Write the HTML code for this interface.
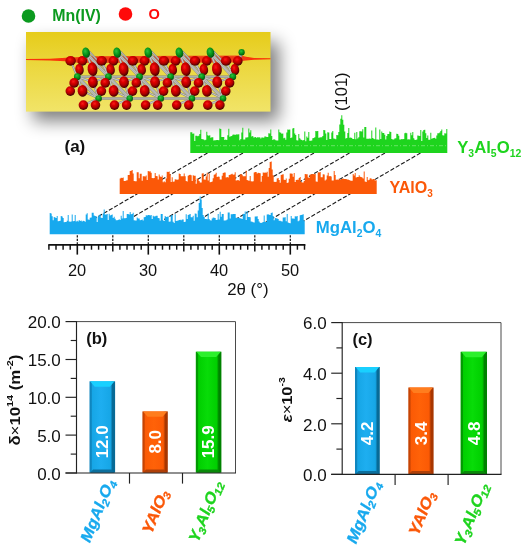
<!DOCTYPE html>
<html lang="en"><head><meta charset="utf-8"><title>Figure</title>
<style>html,body{margin:0;padding:0;background:#fff;}body{width:528px;height:550px;overflow:hidden;}svg{display:block;} text{font-family:'Liberation Sans', Arial, Helvetica, sans-serif;}</style></head><body>
<svg width="528" height="550" viewBox="0 0 528 550">
<defs>
<linearGradient id="gy" x1="0" y1="0" x2="0" y2="1"><stop offset="0" stop-color="#e6cc1a"/><stop offset="0.45" stop-color="#ecd840"/><stop offset="1" stop-color="#f1e468"/></linearGradient>
<radialGradient id="gr" cx="0.42" cy="0.34" r="0.68"><stop offset="0" stop-color="#fa1c1a"/><stop offset="0.32" stop-color="#da0101"/><stop offset="0.62" stop-color="#ac0000"/><stop offset="0.88" stop-color="#5c0000"/><stop offset="1" stop-color="#2c0000"/></radialGradient>
<radialGradient id="gg" cx="0.42" cy="0.34" r="0.68"><stop offset="0" stop-color="#30c040"/><stop offset="0.45" stop-color="#0a9a1c"/><stop offset="0.85" stop-color="#006a10"/><stop offset="1" stop-color="#003006"/></radialGradient>
<filter id="sh" x="-20%" y="-50%" width="140%" height="220%"><feGaussianBlur stdDeviation="8.5"/></filter>
<filter id="b1" x="-10%" y="-10%" width="120%" height="120%"><feGaussianBlur stdDeviation="0.55"/></filter>
<linearGradient id="bb" x1="0" y1="0" x2="1" y2="0"><stop offset="0" stop-color="#0f86bf"/><stop offset="0.07" stop-color="#0f86bf"/><stop offset="0.11" stop-color="#16a6e6"/><stop offset="0.45" stop-color="#1eaef0"/><stop offset="0.82" stop-color="#16a6e6"/><stop offset="0.9" stop-color="#086a96"/><stop offset="1" stop-color="#086a96"/></linearGradient>
<linearGradient id="bo" x1="0" y1="0" x2="1" y2="0"><stop offset="0" stop-color="#c64404"/><stop offset="0.07" stop-color="#c64404"/><stop offset="0.11" stop-color="#fb5a05"/><stop offset="0.45" stop-color="#ff6208"/><stop offset="0.82" stop-color="#fb5a05"/><stop offset="0.9" stop-color="#a83600"/><stop offset="1" stop-color="#a83600"/></linearGradient>
<linearGradient id="bg" x1="0" y1="0" x2="1" y2="0"><stop offset="0" stop-color="#029a02"/><stop offset="0.07" stop-color="#029a02"/><stop offset="0.11" stop-color="#00cf00"/><stop offset="0.45" stop-color="#08dc08"/><stop offset="0.82" stop-color="#00cf00"/><stop offset="0.9" stop-color="#008200"/><stop offset="1" stop-color="#008200"/></linearGradient>
</defs>
<circle cx="28.5" cy="16" r="6.8" fill="#0b9a1f"/>
<text x="52.2" y="21.0" font-size="16.3" font-weight="bold" fill="#0b9a1f" textLength="48.6" lengthAdjust="spacingAndGlyphs">Mn(IV)</text>
<circle cx="125.5" cy="14" r="6.8" fill="#ff0a0a"/>
<text x="148.4" y="18.7" font-size="14.6" font-weight="bold" fill="#ff0a0a">O</text>
<rect x="33" y="42" width="246" height="79" fill="#000" opacity="0.5" filter="url(#sh)"/>
<rect x="26" y="32" width="244.5" height="79.6" fill="url(#gy)"/>
<g filter="url(#b1)">
<polygon points="26,59.0 50,58.7 70,57.6 246,56.8 254,57.9 270.5,58.3 270.5,59.3 254,59.7 246,60.6 70,61.6 50,60.4 26,60.0" fill="#fa3208"/>
<polygon points="64,59.6 84,56.2 242,55.4 250,58.6 238,62.5 78,63" fill="#f23a14" opacity="0.9"/>
<line x1="86.1" y1="52.9" x2="77.3" y2="76.7" stroke="#8a8a86" stroke-width="2.8"/>
<line x1="86.1" y1="52.9" x2="79.5" y2="69.5" stroke="#8a8a86" stroke-width="2.2"/>
<line x1="77.3" y1="76.7" x2="74.1" y2="82.9" stroke="#8a8a86" stroke-width="2.2"/>
<line x1="77.3" y1="76.7" x2="70.6" y2="60.9" stroke="#8a8a86" stroke-width="2.0"/>
<line x1="77.3" y1="76.7" x2="70.3" y2="91.1" stroke="#8a8a86" stroke-width="2.0"/>
<line x1="86.1" y1="52.9" x2="82.3" y2="60.9" stroke="#8a8a86" stroke-width="2.0"/>
<line x1="86.1" y1="52.9" x2="108.4" y2="76.7" stroke="#8a8a86" stroke-width="3.4"/>
<line x1="77.3" y1="76.7" x2="98.6" y2="98.5" stroke="#8a8a86" stroke-width="3.4"/>
<line x1="77.3" y1="76.7" x2="108.4" y2="76.7" stroke="#8a8a86" stroke-width="2.5"/>
<line x1="98.6" y1="98.5" x2="129.7" y2="98.5" stroke="#8a8a86" stroke-width="2.5"/>
<line x1="89.1" y1="51.4" x2="111.4" y2="75.2" stroke="#8a8a86" stroke-width="2.0"/>
<line x1="86.1" y1="52.9" x2="92.5" y2="69.2" stroke="#8a8a86" stroke-width="2.2"/>
<line x1="77.3" y1="76.7" x2="92.9" y2="82.1" stroke="#8a8a86" stroke-width="2.2"/>
<line x1="77.3" y1="76.7" x2="82.5" y2="90.9" stroke="#8a8a86" stroke-width="2.2"/>
<line x1="98.6" y1="98.5" x2="92.9" y2="82.1" stroke="#8a8a86" stroke-width="2.0"/>
<line x1="98.6" y1="98.5" x2="82.5" y2="90.9" stroke="#8a8a86" stroke-width="2.0"/>
<line x1="98.6" y1="98.5" x2="83.4" y2="105.1" stroke="#8a8a86" stroke-width="2.2"/>
<line x1="98.6" y1="98.5" x2="95.5" y2="105.1" stroke="#8a8a86" stroke-width="2.2"/>
<line x1="92.9" y1="82.1" x2="108.4" y2="76.7" stroke="#8a8a86" stroke-width="2.0"/>
<line x1="117.2" y1="52.9" x2="108.4" y2="76.7" stroke="#8a8a86" stroke-width="2.8"/>
<line x1="117.2" y1="52.9" x2="110.6" y2="69.5" stroke="#8a8a86" stroke-width="2.2"/>
<line x1="108.4" y1="76.7" x2="105.2" y2="82.9" stroke="#8a8a86" stroke-width="2.2"/>
<line x1="108.4" y1="76.7" x2="101.7" y2="60.9" stroke="#8a8a86" stroke-width="2.0"/>
<line x1="108.4" y1="76.7" x2="101.4" y2="91.1" stroke="#8a8a86" stroke-width="2.0"/>
<line x1="117.2" y1="52.9" x2="113.4" y2="60.9" stroke="#8a8a86" stroke-width="2.0"/>
<line x1="108.4" y1="76.7" x2="98.6" y2="98.5" stroke="#8a8a86" stroke-width="2.8"/>
<line x1="117.2" y1="52.9" x2="139.5" y2="76.7" stroke="#8a8a86" stroke-width="3.4"/>
<line x1="108.4" y1="76.7" x2="129.7" y2="98.5" stroke="#8a8a86" stroke-width="3.4"/>
<line x1="108.4" y1="76.7" x2="139.5" y2="76.7" stroke="#8a8a86" stroke-width="2.5"/>
<line x1="129.7" y1="98.5" x2="160.8" y2="98.5" stroke="#8a8a86" stroke-width="2.5"/>
<line x1="120.2" y1="51.4" x2="142.5" y2="75.2" stroke="#8a8a86" stroke-width="2.0"/>
<line x1="117.2" y1="52.9" x2="123.6" y2="69.2" stroke="#8a8a86" stroke-width="2.2"/>
<line x1="108.4" y1="76.7" x2="124.0" y2="82.1" stroke="#8a8a86" stroke-width="2.2"/>
<line x1="108.4" y1="76.7" x2="113.6" y2="90.9" stroke="#8a8a86" stroke-width="2.2"/>
<line x1="129.7" y1="98.5" x2="124.0" y2="82.1" stroke="#8a8a86" stroke-width="2.0"/>
<line x1="129.7" y1="98.5" x2="113.6" y2="90.9" stroke="#8a8a86" stroke-width="2.0"/>
<line x1="129.7" y1="98.5" x2="114.5" y2="105.1" stroke="#8a8a86" stroke-width="2.2"/>
<line x1="129.7" y1="98.5" x2="126.6" y2="105.1" stroke="#8a8a86" stroke-width="2.2"/>
<line x1="124.0" y1="82.1" x2="139.5" y2="76.7" stroke="#8a8a86" stroke-width="2.0"/>
<line x1="148.3" y1="52.9" x2="139.5" y2="76.7" stroke="#8a8a86" stroke-width="2.8"/>
<line x1="148.3" y1="52.9" x2="141.7" y2="69.5" stroke="#8a8a86" stroke-width="2.2"/>
<line x1="139.5" y1="76.7" x2="136.3" y2="82.9" stroke="#8a8a86" stroke-width="2.2"/>
<line x1="139.5" y1="76.7" x2="132.8" y2="60.9" stroke="#8a8a86" stroke-width="2.0"/>
<line x1="139.5" y1="76.7" x2="132.5" y2="91.1" stroke="#8a8a86" stroke-width="2.0"/>
<line x1="148.3" y1="52.9" x2="144.5" y2="60.9" stroke="#8a8a86" stroke-width="2.0"/>
<line x1="139.5" y1="76.7" x2="129.7" y2="98.5" stroke="#8a8a86" stroke-width="2.8"/>
<line x1="148.3" y1="52.9" x2="170.6" y2="76.7" stroke="#8a8a86" stroke-width="3.4"/>
<line x1="139.5" y1="76.7" x2="160.8" y2="98.5" stroke="#8a8a86" stroke-width="3.4"/>
<line x1="139.5" y1="76.7" x2="170.6" y2="76.7" stroke="#8a8a86" stroke-width="2.5"/>
<line x1="160.8" y1="98.5" x2="191.9" y2="98.5" stroke="#8a8a86" stroke-width="2.5"/>
<line x1="151.3" y1="51.4" x2="173.6" y2="75.2" stroke="#8a8a86" stroke-width="2.0"/>
<line x1="148.3" y1="52.9" x2="154.7" y2="69.2" stroke="#8a8a86" stroke-width="2.2"/>
<line x1="139.5" y1="76.7" x2="155.1" y2="82.1" stroke="#8a8a86" stroke-width="2.2"/>
<line x1="139.5" y1="76.7" x2="144.7" y2="90.9" stroke="#8a8a86" stroke-width="2.2"/>
<line x1="160.8" y1="98.5" x2="155.1" y2="82.1" stroke="#8a8a86" stroke-width="2.0"/>
<line x1="160.8" y1="98.5" x2="144.7" y2="90.9" stroke="#8a8a86" stroke-width="2.0"/>
<line x1="160.8" y1="98.5" x2="145.6" y2="105.1" stroke="#8a8a86" stroke-width="2.2"/>
<line x1="160.8" y1="98.5" x2="157.7" y2="105.1" stroke="#8a8a86" stroke-width="2.2"/>
<line x1="155.1" y1="82.1" x2="170.6" y2="76.7" stroke="#8a8a86" stroke-width="2.0"/>
<line x1="179.4" y1="52.9" x2="170.6" y2="76.7" stroke="#8a8a86" stroke-width="2.8"/>
<line x1="179.4" y1="52.9" x2="172.8" y2="69.5" stroke="#8a8a86" stroke-width="2.2"/>
<line x1="170.6" y1="76.7" x2="167.4" y2="82.9" stroke="#8a8a86" stroke-width="2.2"/>
<line x1="170.6" y1="76.7" x2="163.9" y2="60.9" stroke="#8a8a86" stroke-width="2.0"/>
<line x1="170.6" y1="76.7" x2="163.6" y2="91.1" stroke="#8a8a86" stroke-width="2.0"/>
<line x1="179.4" y1="52.9" x2="175.6" y2="60.9" stroke="#8a8a86" stroke-width="2.0"/>
<line x1="170.6" y1="76.7" x2="160.8" y2="98.5" stroke="#8a8a86" stroke-width="2.8"/>
<line x1="179.4" y1="52.9" x2="201.7" y2="76.7" stroke="#8a8a86" stroke-width="3.4"/>
<line x1="170.6" y1="76.7" x2="191.9" y2="98.5" stroke="#8a8a86" stroke-width="3.4"/>
<line x1="170.6" y1="76.7" x2="201.7" y2="76.7" stroke="#8a8a86" stroke-width="2.5"/>
<line x1="191.9" y1="98.5" x2="223.0" y2="98.5" stroke="#8a8a86" stroke-width="2.5"/>
<line x1="182.4" y1="51.4" x2="204.7" y2="75.2" stroke="#8a8a86" stroke-width="2.0"/>
<line x1="179.4" y1="52.9" x2="185.8" y2="69.2" stroke="#8a8a86" stroke-width="2.2"/>
<line x1="170.6" y1="76.7" x2="186.2" y2="82.1" stroke="#8a8a86" stroke-width="2.2"/>
<line x1="170.6" y1="76.7" x2="175.8" y2="90.9" stroke="#8a8a86" stroke-width="2.2"/>
<line x1="191.9" y1="98.5" x2="186.2" y2="82.1" stroke="#8a8a86" stroke-width="2.0"/>
<line x1="191.9" y1="98.5" x2="175.8" y2="90.9" stroke="#8a8a86" stroke-width="2.0"/>
<line x1="191.9" y1="98.5" x2="176.7" y2="105.1" stroke="#8a8a86" stroke-width="2.2"/>
<line x1="191.9" y1="98.5" x2="188.8" y2="105.1" stroke="#8a8a86" stroke-width="2.2"/>
<line x1="186.2" y1="82.1" x2="201.7" y2="76.7" stroke="#8a8a86" stroke-width="2.0"/>
<line x1="210.5" y1="52.9" x2="201.7" y2="76.7" stroke="#8a8a86" stroke-width="2.8"/>
<line x1="210.5" y1="52.9" x2="203.9" y2="69.5" stroke="#8a8a86" stroke-width="2.2"/>
<line x1="201.7" y1="76.7" x2="198.5" y2="82.9" stroke="#8a8a86" stroke-width="2.2"/>
<line x1="201.7" y1="76.7" x2="195.0" y2="60.9" stroke="#8a8a86" stroke-width="2.0"/>
<line x1="201.7" y1="76.7" x2="194.7" y2="91.1" stroke="#8a8a86" stroke-width="2.0"/>
<line x1="210.5" y1="52.9" x2="206.7" y2="60.9" stroke="#8a8a86" stroke-width="2.0"/>
<line x1="201.7" y1="76.7" x2="191.9" y2="98.5" stroke="#8a8a86" stroke-width="2.8"/>
<line x1="210.5" y1="52.9" x2="232.8" y2="76.7" stroke="#8a8a86" stroke-width="3.4"/>
<line x1="201.7" y1="76.7" x2="223.0" y2="98.5" stroke="#8a8a86" stroke-width="3.4"/>
<line x1="201.7" y1="76.7" x2="232.8" y2="76.7" stroke="#8a8a86" stroke-width="2.5"/>
<line x1="223.0" y1="98.5" x2="223.0" y2="98.5" stroke="#8a8a86" stroke-width="2.5"/>
<line x1="213.5" y1="51.4" x2="235.8" y2="75.2" stroke="#8a8a86" stroke-width="2.0"/>
<line x1="210.5" y1="52.9" x2="216.9" y2="69.2" stroke="#8a8a86" stroke-width="2.2"/>
<line x1="201.7" y1="76.7" x2="217.3" y2="82.1" stroke="#8a8a86" stroke-width="2.2"/>
<line x1="201.7" y1="76.7" x2="206.9" y2="90.9" stroke="#8a8a86" stroke-width="2.2"/>
<line x1="223.0" y1="98.5" x2="217.3" y2="82.1" stroke="#8a8a86" stroke-width="2.0"/>
<line x1="223.0" y1="98.5" x2="206.9" y2="90.9" stroke="#8a8a86" stroke-width="2.0"/>
<line x1="223.0" y1="98.5" x2="207.8" y2="105.1" stroke="#8a8a86" stroke-width="2.2"/>
<line x1="223.0" y1="98.5" x2="219.9" y2="105.1" stroke="#8a8a86" stroke-width="2.2"/>
<line x1="217.3" y1="82.1" x2="232.8" y2="76.7" stroke="#8a8a86" stroke-width="2.0"/>
<line x1="241.6" y1="52.9" x2="232.8" y2="76.7" stroke="#8a8a86" stroke-width="2.8"/>
<line x1="241.6" y1="52.9" x2="235.0" y2="69.5" stroke="#8a8a86" stroke-width="2.2"/>
<line x1="232.8" y1="76.7" x2="229.6" y2="82.9" stroke="#8a8a86" stroke-width="2.2"/>
<line x1="232.8" y1="76.7" x2="226.1" y2="60.9" stroke="#8a8a86" stroke-width="2.0"/>
<line x1="232.8" y1="76.7" x2="225.8" y2="91.1" stroke="#8a8a86" stroke-width="2.0"/>
<line x1="241.6" y1="52.9" x2="237.8" y2="60.9" stroke="#8a8a86" stroke-width="2.0"/>
<line x1="232.8" y1="76.7" x2="223.0" y2="98.5" stroke="#8a8a86" stroke-width="2.8"/>
<line x1="86.1" y1="52.9" x2="77.3" y2="76.7" stroke="#c6c6c0" stroke-width="1.7"/>
<line x1="86.1" y1="52.9" x2="79.5" y2="69.5" stroke="#c6c6c0" stroke-width="1.2"/>
<line x1="77.3" y1="76.7" x2="74.1" y2="82.9" stroke="#c6c6c0" stroke-width="1.2"/>
<line x1="77.3" y1="76.7" x2="70.6" y2="60.9" stroke="#c6c6c0" stroke-width="1.0"/>
<line x1="77.3" y1="76.7" x2="70.3" y2="91.1" stroke="#c6c6c0" stroke-width="1.0"/>
<line x1="86.1" y1="52.9" x2="82.3" y2="60.9" stroke="#c6c6c0" stroke-width="1.0"/>
<line x1="86.1" y1="52.9" x2="108.4" y2="76.7" stroke="#c6c6c0" stroke-width="2.2"/>
<line x1="77.3" y1="76.7" x2="98.6" y2="98.5" stroke="#c6c6c0" stroke-width="2.2"/>
<line x1="77.3" y1="76.7" x2="108.4" y2="76.7" stroke="#c6c6c0" stroke-width="1.4"/>
<line x1="98.6" y1="98.5" x2="129.7" y2="98.5" stroke="#c6c6c0" stroke-width="1.4"/>
<line x1="89.1" y1="51.4" x2="111.4" y2="75.2" stroke="#c6c6c0" stroke-width="1.0"/>
<line x1="86.1" y1="52.9" x2="92.5" y2="69.2" stroke="#c6c6c0" stroke-width="1.2"/>
<line x1="77.3" y1="76.7" x2="92.9" y2="82.1" stroke="#c6c6c0" stroke-width="1.2"/>
<line x1="77.3" y1="76.7" x2="82.5" y2="90.9" stroke="#c6c6c0" stroke-width="1.2"/>
<line x1="98.6" y1="98.5" x2="92.9" y2="82.1" stroke="#c6c6c0" stroke-width="1.0"/>
<line x1="98.6" y1="98.5" x2="82.5" y2="90.9" stroke="#c6c6c0" stroke-width="1.0"/>
<line x1="98.6" y1="98.5" x2="83.4" y2="105.1" stroke="#c6c6c0" stroke-width="1.2"/>
<line x1="98.6" y1="98.5" x2="95.5" y2="105.1" stroke="#c6c6c0" stroke-width="1.2"/>
<line x1="92.9" y1="82.1" x2="108.4" y2="76.7" stroke="#c6c6c0" stroke-width="1.0"/>
<line x1="117.2" y1="52.9" x2="108.4" y2="76.7" stroke="#c6c6c0" stroke-width="1.7"/>
<line x1="117.2" y1="52.9" x2="110.6" y2="69.5" stroke="#c6c6c0" stroke-width="1.2"/>
<line x1="108.4" y1="76.7" x2="105.2" y2="82.9" stroke="#c6c6c0" stroke-width="1.2"/>
<line x1="108.4" y1="76.7" x2="101.7" y2="60.9" stroke="#c6c6c0" stroke-width="1.0"/>
<line x1="108.4" y1="76.7" x2="101.4" y2="91.1" stroke="#c6c6c0" stroke-width="1.0"/>
<line x1="117.2" y1="52.9" x2="113.4" y2="60.9" stroke="#c6c6c0" stroke-width="1.0"/>
<line x1="108.4" y1="76.7" x2="98.6" y2="98.5" stroke="#c6c6c0" stroke-width="1.7"/>
<line x1="117.2" y1="52.9" x2="139.5" y2="76.7" stroke="#c6c6c0" stroke-width="2.2"/>
<line x1="108.4" y1="76.7" x2="129.7" y2="98.5" stroke="#c6c6c0" stroke-width="2.2"/>
<line x1="108.4" y1="76.7" x2="139.5" y2="76.7" stroke="#c6c6c0" stroke-width="1.4"/>
<line x1="129.7" y1="98.5" x2="160.8" y2="98.5" stroke="#c6c6c0" stroke-width="1.4"/>
<line x1="120.2" y1="51.4" x2="142.5" y2="75.2" stroke="#c6c6c0" stroke-width="1.0"/>
<line x1="117.2" y1="52.9" x2="123.6" y2="69.2" stroke="#c6c6c0" stroke-width="1.2"/>
<line x1="108.4" y1="76.7" x2="124.0" y2="82.1" stroke="#c6c6c0" stroke-width="1.2"/>
<line x1="108.4" y1="76.7" x2="113.6" y2="90.9" stroke="#c6c6c0" stroke-width="1.2"/>
<line x1="129.7" y1="98.5" x2="124.0" y2="82.1" stroke="#c6c6c0" stroke-width="1.0"/>
<line x1="129.7" y1="98.5" x2="113.6" y2="90.9" stroke="#c6c6c0" stroke-width="1.0"/>
<line x1="129.7" y1="98.5" x2="114.5" y2="105.1" stroke="#c6c6c0" stroke-width="1.2"/>
<line x1="129.7" y1="98.5" x2="126.6" y2="105.1" stroke="#c6c6c0" stroke-width="1.2"/>
<line x1="124.0" y1="82.1" x2="139.5" y2="76.7" stroke="#c6c6c0" stroke-width="1.0"/>
<line x1="148.3" y1="52.9" x2="139.5" y2="76.7" stroke="#c6c6c0" stroke-width="1.7"/>
<line x1="148.3" y1="52.9" x2="141.7" y2="69.5" stroke="#c6c6c0" stroke-width="1.2"/>
<line x1="139.5" y1="76.7" x2="136.3" y2="82.9" stroke="#c6c6c0" stroke-width="1.2"/>
<line x1="139.5" y1="76.7" x2="132.8" y2="60.9" stroke="#c6c6c0" stroke-width="1.0"/>
<line x1="139.5" y1="76.7" x2="132.5" y2="91.1" stroke="#c6c6c0" stroke-width="1.0"/>
<line x1="148.3" y1="52.9" x2="144.5" y2="60.9" stroke="#c6c6c0" stroke-width="1.0"/>
<line x1="139.5" y1="76.7" x2="129.7" y2="98.5" stroke="#c6c6c0" stroke-width="1.7"/>
<line x1="148.3" y1="52.9" x2="170.6" y2="76.7" stroke="#c6c6c0" stroke-width="2.2"/>
<line x1="139.5" y1="76.7" x2="160.8" y2="98.5" stroke="#c6c6c0" stroke-width="2.2"/>
<line x1="139.5" y1="76.7" x2="170.6" y2="76.7" stroke="#c6c6c0" stroke-width="1.4"/>
<line x1="160.8" y1="98.5" x2="191.9" y2="98.5" stroke="#c6c6c0" stroke-width="1.4"/>
<line x1="151.3" y1="51.4" x2="173.6" y2="75.2" stroke="#c6c6c0" stroke-width="1.0"/>
<line x1="148.3" y1="52.9" x2="154.7" y2="69.2" stroke="#c6c6c0" stroke-width="1.2"/>
<line x1="139.5" y1="76.7" x2="155.1" y2="82.1" stroke="#c6c6c0" stroke-width="1.2"/>
<line x1="139.5" y1="76.7" x2="144.7" y2="90.9" stroke="#c6c6c0" stroke-width="1.2"/>
<line x1="160.8" y1="98.5" x2="155.1" y2="82.1" stroke="#c6c6c0" stroke-width="1.0"/>
<line x1="160.8" y1="98.5" x2="144.7" y2="90.9" stroke="#c6c6c0" stroke-width="1.0"/>
<line x1="160.8" y1="98.5" x2="145.6" y2="105.1" stroke="#c6c6c0" stroke-width="1.2"/>
<line x1="160.8" y1="98.5" x2="157.7" y2="105.1" stroke="#c6c6c0" stroke-width="1.2"/>
<line x1="155.1" y1="82.1" x2="170.6" y2="76.7" stroke="#c6c6c0" stroke-width="1.0"/>
<line x1="179.4" y1="52.9" x2="170.6" y2="76.7" stroke="#c6c6c0" stroke-width="1.7"/>
<line x1="179.4" y1="52.9" x2="172.8" y2="69.5" stroke="#c6c6c0" stroke-width="1.2"/>
<line x1="170.6" y1="76.7" x2="167.4" y2="82.9" stroke="#c6c6c0" stroke-width="1.2"/>
<line x1="170.6" y1="76.7" x2="163.9" y2="60.9" stroke="#c6c6c0" stroke-width="1.0"/>
<line x1="170.6" y1="76.7" x2="163.6" y2="91.1" stroke="#c6c6c0" stroke-width="1.0"/>
<line x1="179.4" y1="52.9" x2="175.6" y2="60.9" stroke="#c6c6c0" stroke-width="1.0"/>
<line x1="170.6" y1="76.7" x2="160.8" y2="98.5" stroke="#c6c6c0" stroke-width="1.7"/>
<line x1="179.4" y1="52.9" x2="201.7" y2="76.7" stroke="#c6c6c0" stroke-width="2.2"/>
<line x1="170.6" y1="76.7" x2="191.9" y2="98.5" stroke="#c6c6c0" stroke-width="2.2"/>
<line x1="170.6" y1="76.7" x2="201.7" y2="76.7" stroke="#c6c6c0" stroke-width="1.4"/>
<line x1="191.9" y1="98.5" x2="223.0" y2="98.5" stroke="#c6c6c0" stroke-width="1.4"/>
<line x1="182.4" y1="51.4" x2="204.7" y2="75.2" stroke="#c6c6c0" stroke-width="1.0"/>
<line x1="179.4" y1="52.9" x2="185.8" y2="69.2" stroke="#c6c6c0" stroke-width="1.2"/>
<line x1="170.6" y1="76.7" x2="186.2" y2="82.1" stroke="#c6c6c0" stroke-width="1.2"/>
<line x1="170.6" y1="76.7" x2="175.8" y2="90.9" stroke="#c6c6c0" stroke-width="1.2"/>
<line x1="191.9" y1="98.5" x2="186.2" y2="82.1" stroke="#c6c6c0" stroke-width="1.0"/>
<line x1="191.9" y1="98.5" x2="175.8" y2="90.9" stroke="#c6c6c0" stroke-width="1.0"/>
<line x1="191.9" y1="98.5" x2="176.7" y2="105.1" stroke="#c6c6c0" stroke-width="1.2"/>
<line x1="191.9" y1="98.5" x2="188.8" y2="105.1" stroke="#c6c6c0" stroke-width="1.2"/>
<line x1="186.2" y1="82.1" x2="201.7" y2="76.7" stroke="#c6c6c0" stroke-width="1.0"/>
<line x1="210.5" y1="52.9" x2="201.7" y2="76.7" stroke="#c6c6c0" stroke-width="1.7"/>
<line x1="210.5" y1="52.9" x2="203.9" y2="69.5" stroke="#c6c6c0" stroke-width="1.2"/>
<line x1="201.7" y1="76.7" x2="198.5" y2="82.9" stroke="#c6c6c0" stroke-width="1.2"/>
<line x1="201.7" y1="76.7" x2="195.0" y2="60.9" stroke="#c6c6c0" stroke-width="1.0"/>
<line x1="201.7" y1="76.7" x2="194.7" y2="91.1" stroke="#c6c6c0" stroke-width="1.0"/>
<line x1="210.5" y1="52.9" x2="206.7" y2="60.9" stroke="#c6c6c0" stroke-width="1.0"/>
<line x1="201.7" y1="76.7" x2="191.9" y2="98.5" stroke="#c6c6c0" stroke-width="1.7"/>
<line x1="210.5" y1="52.9" x2="232.8" y2="76.7" stroke="#c6c6c0" stroke-width="2.2"/>
<line x1="201.7" y1="76.7" x2="223.0" y2="98.5" stroke="#c6c6c0" stroke-width="2.2"/>
<line x1="201.7" y1="76.7" x2="232.8" y2="76.7" stroke="#c6c6c0" stroke-width="1.4"/>
<line x1="223.0" y1="98.5" x2="223.0" y2="98.5" stroke="#c6c6c0" stroke-width="1.4"/>
<line x1="213.5" y1="51.4" x2="235.8" y2="75.2" stroke="#c6c6c0" stroke-width="1.0"/>
<line x1="210.5" y1="52.9" x2="216.9" y2="69.2" stroke="#c6c6c0" stroke-width="1.2"/>
<line x1="201.7" y1="76.7" x2="217.3" y2="82.1" stroke="#c6c6c0" stroke-width="1.2"/>
<line x1="201.7" y1="76.7" x2="206.9" y2="90.9" stroke="#c6c6c0" stroke-width="1.2"/>
<line x1="223.0" y1="98.5" x2="217.3" y2="82.1" stroke="#c6c6c0" stroke-width="1.0"/>
<line x1="223.0" y1="98.5" x2="206.9" y2="90.9" stroke="#c6c6c0" stroke-width="1.0"/>
<line x1="223.0" y1="98.5" x2="207.8" y2="105.1" stroke="#c6c6c0" stroke-width="1.2"/>
<line x1="223.0" y1="98.5" x2="219.9" y2="105.1" stroke="#c6c6c0" stroke-width="1.2"/>
<line x1="217.3" y1="82.1" x2="232.8" y2="76.7" stroke="#c6c6c0" stroke-width="1.0"/>
<line x1="241.6" y1="52.9" x2="232.8" y2="76.7" stroke="#c6c6c0" stroke-width="1.7"/>
<line x1="241.6" y1="52.9" x2="235.0" y2="69.5" stroke="#c6c6c0" stroke-width="1.2"/>
<line x1="232.8" y1="76.7" x2="229.6" y2="82.9" stroke="#c6c6c0" stroke-width="1.2"/>
<line x1="232.8" y1="76.7" x2="226.1" y2="60.9" stroke="#c6c6c0" stroke-width="1.0"/>
<line x1="232.8" y1="76.7" x2="225.8" y2="91.1" stroke="#c6c6c0" stroke-width="1.0"/>
<line x1="241.6" y1="52.9" x2="237.8" y2="60.9" stroke="#c6c6c0" stroke-width="1.0"/>
<line x1="232.8" y1="76.7" x2="223.0" y2="98.5" stroke="#c6c6c0" stroke-width="1.7"/>
<line x1="86.1" y1="52.9" x2="77.3" y2="76.7" stroke="#8f8f8c" stroke-width="0.5"/>
<line x1="86.1" y1="52.9" x2="108.4" y2="76.7" stroke="#8f8f8c" stroke-width="0.5"/>
<line x1="77.3" y1="76.7" x2="98.6" y2="98.5" stroke="#8f8f8c" stroke-width="0.5"/>
<line x1="77.3" y1="76.7" x2="108.4" y2="76.7" stroke="#8f8f8c" stroke-width="0.5"/>
<line x1="98.6" y1="98.5" x2="129.7" y2="98.5" stroke="#8f8f8c" stroke-width="0.5"/>
<line x1="117.2" y1="52.9" x2="108.4" y2="76.7" stroke="#8f8f8c" stroke-width="0.5"/>
<line x1="108.4" y1="76.7" x2="98.6" y2="98.5" stroke="#8f8f8c" stroke-width="0.5"/>
<line x1="117.2" y1="52.9" x2="139.5" y2="76.7" stroke="#8f8f8c" stroke-width="0.5"/>
<line x1="108.4" y1="76.7" x2="129.7" y2="98.5" stroke="#8f8f8c" stroke-width="0.5"/>
<line x1="108.4" y1="76.7" x2="139.5" y2="76.7" stroke="#8f8f8c" stroke-width="0.5"/>
<line x1="129.7" y1="98.5" x2="160.8" y2="98.5" stroke="#8f8f8c" stroke-width="0.5"/>
<line x1="148.3" y1="52.9" x2="139.5" y2="76.7" stroke="#8f8f8c" stroke-width="0.5"/>
<line x1="139.5" y1="76.7" x2="129.7" y2="98.5" stroke="#8f8f8c" stroke-width="0.5"/>
<line x1="148.3" y1="52.9" x2="170.6" y2="76.7" stroke="#8f8f8c" stroke-width="0.5"/>
<line x1="139.5" y1="76.7" x2="160.8" y2="98.5" stroke="#8f8f8c" stroke-width="0.5"/>
<line x1="139.5" y1="76.7" x2="170.6" y2="76.7" stroke="#8f8f8c" stroke-width="0.5"/>
<line x1="160.8" y1="98.5" x2="191.9" y2="98.5" stroke="#8f8f8c" stroke-width="0.5"/>
<line x1="179.4" y1="52.9" x2="170.6" y2="76.7" stroke="#8f8f8c" stroke-width="0.5"/>
<line x1="170.6" y1="76.7" x2="160.8" y2="98.5" stroke="#8f8f8c" stroke-width="0.5"/>
<line x1="179.4" y1="52.9" x2="201.7" y2="76.7" stroke="#8f8f8c" stroke-width="0.5"/>
<line x1="170.6" y1="76.7" x2="191.9" y2="98.5" stroke="#8f8f8c" stroke-width="0.5"/>
<line x1="170.6" y1="76.7" x2="201.7" y2="76.7" stroke="#8f8f8c" stroke-width="0.5"/>
<line x1="191.9" y1="98.5" x2="223.0" y2="98.5" stroke="#8f8f8c" stroke-width="0.5"/>
<line x1="210.5" y1="52.9" x2="201.7" y2="76.7" stroke="#8f8f8c" stroke-width="0.5"/>
<line x1="201.7" y1="76.7" x2="191.9" y2="98.5" stroke="#8f8f8c" stroke-width="0.5"/>
<line x1="210.5" y1="52.9" x2="232.8" y2="76.7" stroke="#8f8f8c" stroke-width="0.5"/>
<line x1="201.7" y1="76.7" x2="223.0" y2="98.5" stroke="#8f8f8c" stroke-width="0.5"/>
<line x1="201.7" y1="76.7" x2="232.8" y2="76.7" stroke="#8f8f8c" stroke-width="0.5"/>
<line x1="223.0" y1="98.5" x2="223.0" y2="98.5" stroke="#8f8f8c" stroke-width="0.5"/>
<line x1="241.6" y1="52.9" x2="232.8" y2="76.7" stroke="#8f8f8c" stroke-width="0.5"/>
<line x1="232.8" y1="76.7" x2="223.0" y2="98.5" stroke="#8f8f8c" stroke-width="0.5"/>
<ellipse cx="82.3" cy="60.9" rx="4.8" ry="4.8" fill="url(#gr)"/>
<ellipse cx="113.4" cy="60.9" rx="4.8" ry="4.8" fill="url(#gr)"/>
<ellipse cx="144.5" cy="60.9" rx="4.8" ry="4.8" fill="url(#gr)"/>
<ellipse cx="175.6" cy="60.9" rx="4.8" ry="4.8" fill="url(#gr)"/>
<ellipse cx="206.7" cy="60.9" rx="4.8" ry="4.8" fill="url(#gr)"/>
<ellipse cx="237.8" cy="60.9" rx="4.8" ry="4.8" fill="url(#gr)"/>
<ellipse cx="70.6" cy="60.9" rx="5.2" ry="4.8" fill="url(#gr)"/>
<ellipse cx="101.7" cy="60.9" rx="5.2" ry="4.8" fill="url(#gr)"/>
<ellipse cx="132.8" cy="60.9" rx="5.2" ry="4.8" fill="url(#gr)"/>
<ellipse cx="163.9" cy="60.9" rx="5.2" ry="4.8" fill="url(#gr)"/>
<ellipse cx="195.0" cy="60.9" rx="5.2" ry="4.8" fill="url(#gr)"/>
<ellipse cx="226.1" cy="60.9" rx="5.2" ry="4.8" fill="url(#gr)"/>
<ellipse cx="79.5" cy="69.5" rx="4.2" ry="5.6" fill="url(#gr)" transform="rotate(-12 79.5 69.5)"/>
<ellipse cx="110.6" cy="69.5" rx="4.2" ry="5.6" fill="url(#gr)" transform="rotate(-12 110.6 69.5)"/>
<ellipse cx="141.7" cy="69.5" rx="4.2" ry="5.6" fill="url(#gr)" transform="rotate(-12 141.7 69.5)"/>
<ellipse cx="172.8" cy="69.5" rx="4.2" ry="5.6" fill="url(#gr)" transform="rotate(-12 172.8 69.5)"/>
<ellipse cx="203.9" cy="69.5" rx="4.2" ry="5.6" fill="url(#gr)" transform="rotate(-12 203.9 69.5)"/>
<ellipse cx="235.0" cy="69.5" rx="4.2" ry="5.6" fill="url(#gr)" transform="rotate(-12 235.0 69.5)"/>
<ellipse cx="86.1" cy="52.6" rx="3.8" ry="5.2" fill="url(#gg)" transform="rotate(-12 86.1 52.6)"/>
<ellipse cx="117.2" cy="52.6" rx="3.8" ry="5.2" fill="url(#gg)" transform="rotate(-12 117.2 52.6)"/>
<ellipse cx="148.3" cy="52.6" rx="3.8" ry="5.2" fill="url(#gg)" transform="rotate(-12 148.3 52.6)"/>
<ellipse cx="179.4" cy="52.6" rx="3.8" ry="5.2" fill="url(#gg)" transform="rotate(-12 179.4 52.6)"/>
<ellipse cx="210.5" cy="52.6" rx="3.8" ry="5.2" fill="url(#gg)" transform="rotate(-12 210.5 52.6)"/>
<ellipse cx="241.6" cy="52.3" rx="3.1" ry="3.2" fill="url(#gg)"/>
<ellipse cx="92.5" cy="69.2" rx="4.9" ry="6.9" fill="url(#gr)" transform="rotate(-10 92.5 69.2)"/>
<ellipse cx="123.6" cy="69.2" rx="4.9" ry="6.9" fill="url(#gr)" transform="rotate(-10 123.6 69.2)"/>
<ellipse cx="154.7" cy="69.2" rx="4.9" ry="6.9" fill="url(#gr)" transform="rotate(-10 154.7 69.2)"/>
<ellipse cx="185.8" cy="69.2" rx="4.9" ry="6.9" fill="url(#gr)" transform="rotate(-10 185.8 69.2)"/>
<ellipse cx="216.9" cy="69.2" rx="4.9" ry="6.9" fill="url(#gr)" transform="rotate(-10 216.9 69.2)"/>
<ellipse cx="77.3" cy="76.7" rx="3.4" ry="3.4" fill="url(#gg)"/>
<ellipse cx="108.4" cy="76.7" rx="3.4" ry="3.4" fill="url(#gg)"/>
<ellipse cx="139.5" cy="76.7" rx="3.4" ry="3.4" fill="url(#gg)"/>
<ellipse cx="170.6" cy="76.7" rx="3.4" ry="3.4" fill="url(#gg)"/>
<ellipse cx="201.7" cy="76.7" rx="3.4" ry="3.4" fill="url(#gg)"/>
<ellipse cx="232.8" cy="76.7" rx="3.4" ry="3.4" fill="url(#gg)"/>
<ellipse cx="74.1" cy="82.9" rx="4.8" ry="4.8" fill="url(#gr)"/>
<ellipse cx="105.2" cy="82.9" rx="4.8" ry="4.8" fill="url(#gr)"/>
<ellipse cx="136.3" cy="82.9" rx="4.8" ry="4.8" fill="url(#gr)"/>
<ellipse cx="167.4" cy="82.9" rx="4.8" ry="4.8" fill="url(#gr)"/>
<ellipse cx="198.5" cy="82.9" rx="4.8" ry="4.8" fill="url(#gr)"/>
<ellipse cx="229.6" cy="82.9" rx="4.8" ry="4.8" fill="url(#gr)"/>
<ellipse cx="92.9" cy="82.1" rx="4.9" ry="5.9" fill="url(#gr)" transform="rotate(-8 92.9 82.1)"/>
<ellipse cx="124.0" cy="82.1" rx="4.9" ry="5.9" fill="url(#gr)" transform="rotate(-8 124.0 82.1)"/>
<ellipse cx="155.1" cy="82.1" rx="4.9" ry="5.9" fill="url(#gr)" transform="rotate(-8 155.1 82.1)"/>
<ellipse cx="186.2" cy="82.1" rx="4.9" ry="5.9" fill="url(#gr)" transform="rotate(-8 186.2 82.1)"/>
<ellipse cx="217.3" cy="82.1" rx="4.9" ry="5.9" fill="url(#gr)" transform="rotate(-8 217.3 82.1)"/>
<ellipse cx="70.3" cy="91.1" rx="4.8" ry="4.8" fill="url(#gr)"/>
<ellipse cx="101.4" cy="91.1" rx="4.8" ry="4.8" fill="url(#gr)"/>
<ellipse cx="132.5" cy="91.1" rx="4.8" ry="4.8" fill="url(#gr)"/>
<ellipse cx="163.6" cy="91.1" rx="4.8" ry="4.8" fill="url(#gr)"/>
<ellipse cx="194.7" cy="91.1" rx="4.8" ry="4.8" fill="url(#gr)"/>
<ellipse cx="225.8" cy="91.1" rx="4.8" ry="4.8" fill="url(#gr)"/>
<ellipse cx="82.5" cy="90.9" rx="4.9" ry="5.8" fill="url(#gr)" transform="rotate(-8 82.5 90.9)"/>
<ellipse cx="113.6" cy="90.9" rx="4.9" ry="5.8" fill="url(#gr)" transform="rotate(-8 113.6 90.9)"/>
<ellipse cx="144.7" cy="90.9" rx="4.9" ry="5.8" fill="url(#gr)" transform="rotate(-8 144.7 90.9)"/>
<ellipse cx="175.8" cy="90.9" rx="4.9" ry="5.8" fill="url(#gr)" transform="rotate(-8 175.8 90.9)"/>
<ellipse cx="206.9" cy="90.9" rx="4.9" ry="5.8" fill="url(#gr)" transform="rotate(-8 206.9 90.9)"/>
<ellipse cx="98.6" cy="98.5" rx="3.3" ry="3.3" fill="url(#gg)"/>
<ellipse cx="129.7" cy="98.5" rx="3.3" ry="3.3" fill="url(#gg)"/>
<ellipse cx="160.8" cy="98.5" rx="3.3" ry="3.3" fill="url(#gg)"/>
<ellipse cx="191.9" cy="98.5" rx="3.3" ry="3.3" fill="url(#gg)"/>
<ellipse cx="223.0" cy="98.5" rx="3.3" ry="3.3" fill="url(#gg)"/>
<ellipse cx="83.4" cy="105.1" rx="4.8" ry="4.8" fill="url(#gr)"/>
<ellipse cx="114.5" cy="105.1" rx="4.8" ry="4.8" fill="url(#gr)"/>
<ellipse cx="145.6" cy="105.1" rx="4.8" ry="4.8" fill="url(#gr)"/>
<ellipse cx="176.7" cy="105.1" rx="4.8" ry="4.8" fill="url(#gr)"/>
<ellipse cx="207.8" cy="105.1" rx="4.8" ry="4.8" fill="url(#gr)"/>
<ellipse cx="95.5" cy="105.1" rx="4.8" ry="4.8" fill="url(#gr)"/>
<ellipse cx="126.6" cy="105.1" rx="4.8" ry="4.8" fill="url(#gr)"/>
<ellipse cx="157.7" cy="105.1" rx="4.8" ry="4.8" fill="url(#gr)"/>
<ellipse cx="188.8" cy="105.1" rx="4.8" ry="4.8" fill="url(#gr)"/>
<ellipse cx="219.9" cy="105.1" rx="4.8" ry="4.8" fill="url(#gr)"/>
</g>
<g stroke="#1a1a1a" stroke-width="1.1" stroke-dasharray="4.2,1.9" fill="none">
<line x1="77.3" y1="228.7" x2="218.3" y2="146.7"/>
<line x1="112.8" y1="228.7" x2="253.8" y2="146.7"/>
<line x1="148.3" y1="228.7" x2="289.3" y2="146.7"/>
<line x1="183.8" y1="228.7" x2="324.8" y2="146.7"/>
<line x1="219.3" y1="228.7" x2="360.3" y2="146.7"/>
<line x1="254.8" y1="228.7" x2="395.8" y2="146.7"/>
<line x1="290.3" y1="228.7" x2="431.3" y2="146.7"/>
</g>
<path d="M190.3,153.1V132.2H191.3V132.3H192.3V133.8H193.3V133.6H194.3V140.9H195.3V135.7H196.3V135.8H197.3V136.2H198.3V135.8H199.3V133.9H200.3V129.7H201.3V138.9H202.3V139.2H203.3V139.6H204.3V140.3H205.3V139.8H206.3V131.8H207.3V135.3H208.3V135.8H209.3V135.3H210.3V137.7H211.3V137.3H212.3V137.2H213.3V140.4H214.3V140.2H215.3V140.3H216.3V140.1H217.3V140.0H218.3V140.2H219.3V128.6H220.3V128.9H221.3V137.1H222.3V137.1H223.3V137.1H224.3V139.9H225.3V139.6H226.3V140.1H227.3V135.3H228.3V128.7H229.3V136.7H230.3V136.3H231.3V136.1H232.3V134.8H233.3V134.6H234.3V134.8H235.3V134.7H236.3V134.2H237.3V134.4H238.3V134.2H239.3V140.2H240.3V139.1H241.3V132.6H242.3V127.8H243.3V139.6H244.3V139.4H245.3V137.4H246.3V137.6H247.3V137.2H248.3V128.4H249.3V132.6H250.3V130.2H251.3V136.4H252.3V136.1H253.3V137.6H254.3V137.3H255.3V137.1H256.3V138.1H257.3V136.9H258.3V137.4H259.3V137.2H260.3V138.4H261.3V137.6H262.3V137.5H263.3V137.7H264.3V136.4H265.3V136.4H266.3V136.9H267.3V137.0H268.3V133.2H269.3V133.6H270.3V129.4H271.3V135.9H272.3V140.0H273.3V139.2H274.3V139.6H275.3V140.2H276.3V140.6H277.3V140.4H278.3V129.6H279.3V132.3H280.3V132.7H281.3V133.7H282.3V133.4H283.3V138.2H284.3V137.8H285.3V139.8H286.3V132.5H287.3V129.4H288.3V129.7H289.3V129.4H290.3V138.0H291.3V137.6H292.3V128.4H293.3V128.1H294.3V133.5H295.3V135.1H296.3V140.2H297.3V140.5H298.3V134.1H299.3V138.2H300.3V139.5H301.3V139.9H302.3V140.4H303.3V139.9H304.3V131.6H305.3V141.2H306.3V136.5H307.3V137.8H308.3V131.9H309.3V140.7H310.3V140.8H311.3V140.4H312.3V138.3H313.3V138.0H314.3V137.2H315.3V131.0H316.3V131.2H317.3V130.9H318.3V137.8H319.3V137.4H320.3V137.2H321.3V137.2H322.3V136.0H323.3V130.1H324.3V130.3H325.3V133.5H326.3V140.1H327.3V132.2H328.3V132.5H329.3V139.0H330.3V139.0H331.3V132.5H332.3V130.9H333.3V138.4H334.3V138.8H335.3V139.3H336.3V134.9H337.3V135.2H338.3V131.9H339.3V124.5H340.3V118.8H341.3V115.2H342.3V119.8H343.3V124.8H344.3V131.6H345.3V138.6H346.3V138.1H347.3V132.9H348.3V128.1H349.3V137.8H350.3V137.4H351.3V138.0H352.3V138.9H353.3V139.0H354.3V132.7H355.3V139.2H356.3V132.1H357.3V138.4H358.3V137.3H359.3V131.3H360.3V131.2H361.3V131.4H362.3V129.2H363.3V137.4H364.3V127.1H365.3V126.9H366.3V138.7H367.3V138.7H368.3V138.7H369.3V138.6H370.3V138.7H371.3V130.4H372.3V138.1H373.3V138.7H374.3V139.3H375.3V127.5H376.3V139.4H377.3V139.5H378.3V139.7H379.3V129.5H380.3V138.9H381.3V131.5H382.3V133.1H383.3V133.1H384.3V134.8H385.3V139.6H386.3V135.9H387.3V134.1H388.3V134.0H389.3V131.6H390.3V131.9H391.3V138.9H392.3V139.4H393.3V139.4H394.3V138.5H395.3V138.3H396.3V133.8H397.3V133.9H398.3V135.7H399.3V139.5H400.3V139.5H401.3V139.1H402.3V139.2H403.3V139.1H404.3V133.2H405.3V132.8H406.3V133.2H407.3V139.5H408.3V139.2H409.3V139.5H410.3V132.7H411.3V135.2H412.3V132.1H413.3V138.2H414.3V139.8H415.3V140.0H416.3V139.6H417.3V135.6H418.3V135.7H419.3V136.1H420.3V130.0H421.3V141.0H422.3V131.4H423.3V129.9H424.3V129.8H425.3V133.2H426.3V137.9H427.3V135.5H428.3V139.7H429.3V139.8H430.3V132.7H431.3V138.8H432.3V138.3H433.3V138.0H434.3V137.7H435.3V138.7H436.3V135.4H437.3V133.3H438.3V133.2H439.3V132.5H440.3V131.1H441.3V129.6H442.3V135.3H443.3V135.5H444.3V133.3H445.3V133.6H446.3V128.9H447.3V153.1Z" fill="#1ed41e"/>
<line x1="196" y1="145.7" x2="446" y2="145.7" stroke="#e8ffe0" stroke-width="0.8" stroke-dasharray="4,2,1,2" opacity="0.45"/>
<path d="M119.7,193.9V178.4H120.7V177.8H121.7V177.9H122.7V177.5H123.7V181.0H124.7V180.9H125.7V180.5H126.7V180.2H127.7V175.0H128.7V174.9H129.7V171.1H130.7V170.7H131.7V170.1H132.7V173.5H133.7V181.1H134.7V181.2H135.7V181.2H136.7V172.2H137.7V172.2H138.7V178.2H139.7V173.8H140.7V173.7H141.7V180.8H142.7V176.2H143.7V176.2H144.7V176.4H145.7V175.6H146.7V180.0H147.7V170.9H148.7V171.4H149.7V171.3H150.7V172.7H151.7V178.1H152.7V178.3H153.7V178.0H154.7V172.9H155.7V176.1H156.7V176.3H157.7V179.5H158.7V174.6H159.7V176.6H160.7V177.0H161.7V175.6H162.7V182.3H163.7V181.2H164.7V182.2H165.7V178.5H166.7V171.8H167.7V171.9H168.7V171.4H169.7V174.2H170.7V181.9H171.7V177.3H172.7V181.7H173.7V181.6H174.7V179.3H175.7V179.6H176.7V179.8H177.7V179.6H178.7V173.6H179.7V173.9H180.7V176.2H181.7V176.2H182.7V176.2H183.7V173.4H184.7V176.3H185.7V181.0H186.7V181.6H187.7V175.7H188.7V175.0H189.7V174.7H190.7V175.2H191.7V181.0H192.7V175.3H193.7V175.8H194.7V175.8H195.7V183.7H196.7V178.5H197.7V178.9H198.7V181.1H199.7V182.6H200.7V182.4H201.7V173.4H202.7V173.3H203.7V179.5H204.7V179.8H205.7V176.6H206.7V172.8H207.7V180.4H208.7V173.4H209.7V182.2H210.7V182.0H211.7V181.5H212.7V178.3H213.7V174.7H214.7V174.2H215.7V172.8H216.7V176.9H217.7V176.6H218.7V176.8H219.7V179.6H220.7V179.4H221.7V175.7H222.7V173.0H223.7V172.5H224.7V172.5H225.7V177.4H226.7V177.1H227.7V177.4H228.7V175.1H229.7V174.7H230.7V174.2H231.7V173.8H232.7V174.7H233.7V174.6H234.7V172.3H235.7V180.5H236.7V180.2H237.7V180.1H238.7V180.7H239.7V174.3H240.7V174.2H241.7V174.7H242.7V176.3H243.7V176.2H244.7V176.2H245.7V170.7H246.7V180.1H247.7V180.4H248.7V180.8H249.7V175.9H250.7V181.2H251.7V181.4H252.7V181.2H253.7V172.4H254.7V171.9H255.7V172.0H256.7V173.5H257.7V172.8H258.7V173.0H259.7V173.2H260.7V181.7H261.7V176.1H262.7V172.4H263.7V172.8H264.7V172.5H265.7V172.8H266.7V171.7H267.7V176.8H268.7V168.1H269.7V162.0H270.7V161.4H271.7V169.5H272.7V175.2H273.7V181.7H274.7V181.9H275.7V181.8H276.7V178.4H277.7V178.0H278.7V180.0H279.7V182.8H280.7V175.0H281.7V174.6H282.7V174.3H283.7V179.8H284.7V180.1H285.7V178.4H286.7V183.0H287.7V182.6H288.7V178.8H289.7V173.5H290.7V173.6H291.7V173.8H292.7V176.7H293.7V173.1H294.7V182.0H295.7V179.9H296.7V179.7H297.7V179.7H298.7V178.1H299.7V176.9H300.7V182.0H301.7V182.5H302.7V182.6H303.7V180.9H304.7V174.0H305.7V174.2H306.7V174.2H307.7V177.6H308.7V177.8H309.7V174.4H310.7V174.4H311.7V174.0H312.7V174.1H313.7V174.2H314.7V173.8H315.7V181.5H316.7V181.8H317.7V172.2H318.7V172.4H319.7V172.1H320.7V177.3H321.7V177.2H322.7V174.3H323.7V174.5H324.7V180.6H325.7V179.4H326.7V175.4H327.7V172.7H328.7V176.2H329.7V176.1H330.7V176.4H331.7V180.6H332.7V180.6H333.7V171.1H334.7V175.1H335.7V179.7H336.7V179.6H337.7V179.8H338.7V178.6H339.7V179.9H340.7V178.9H341.7V179.1H342.7V178.4H343.7V179.0H344.7V178.9H345.7V178.9H346.7V179.4H347.7V179.4H348.7V179.9H349.7V180.4H350.7V180.7H351.7V180.7H352.7V173.9H353.7V175.6H354.7V173.1H355.7V177.4H356.7V177.0H357.7V177.0H358.7V175.3H359.7V176.8H360.7V177.0H361.7V177.4H362.7V178.6H363.7V171.6H364.7V181.6H365.7V182.0H366.7V176.9H367.7V180.2H368.7V179.8H369.7V178.3H370.7V178.4H371.7V179.4H372.7V178.9H373.7V179.0H374.7V180.5H375.7V180.3H376.7V193.9Z" fill="#fb5808"/>
<path d="M49.7,234.3V213.1H50.7V213.5H51.7V216.3H52.7V220.2H53.7V217.0H54.7V217.4H55.7V218.1H56.7V215.9H57.7V221.2H58.7V221.1H59.7V220.8H60.7V216.1H61.7V216.4H62.7V218.1H63.7V222.2H64.7V222.1H65.7V222.0H66.7V220.7H67.7V214.9H68.7V221.6H69.7V221.7H70.7V221.6H71.7V214.4H72.7V221.2H73.7V221.1H74.7V214.9H75.7V221.4H76.7V220.8H77.7V221.6H78.7V220.0H79.7V220.9H80.7V220.5H81.7V221.4H82.7V220.8H83.7V221.0H84.7V221.8H85.7V214.6H86.7V213.3H87.7V219.5H88.7V219.7H89.7V217.7H90.7V217.4H91.7V212.8H92.7V212.8H93.7V215.5H94.7V216.0H95.7V216.2H96.7V222.1H97.7V216.7H98.7V215.2H99.7V214.3H100.7V217.7H101.7V218.0H102.7V213.6H103.7V209.5H104.7V214.6H105.7V214.4H106.7V213.9H107.7V220.0H108.7V213.8H109.7V215.5H110.7V214.9H111.7V214.5H112.7V218.1H113.7V216.8H114.7V218.7H115.7V220.2H116.7V220.2H117.7V219.9H118.7V219.3H119.7V219.9H120.7V215.7H121.7V218.4H122.7V211.1H123.7V218.2H124.7V218.2H125.7V218.1H126.7V214.0H127.7V214.1H128.7V214.5H129.7V212.1H130.7V214.3H131.7V214.0H132.7V212.7H133.7V220.3H134.7V220.5H135.7V220.5H136.7V217.5H137.7V218.4H138.7V218.5H139.7V220.2H140.7V219.9H141.7V219.4H142.7V220.4H143.7V217.2H144.7V216.9H145.7V215.2H146.7V215.5H147.7V215.0H148.7V215.1H149.7V215.5H150.7V215.1H151.7V219.0H152.7V215.8H153.7V216.5H154.7V216.2H155.7V215.8H156.7V215.8H157.7V217.9H158.7V218.2H159.7V220.7H160.7V213.9H161.7V213.9H162.7V220.6H163.7V221.0H164.7V216.0H165.7V216.9H166.7V216.7H167.7V216.5H168.7V221.7H169.7V221.4H170.7V215.5H171.7V215.1H172.7V221.7H173.7V223.0H174.7V214.3H175.7V221.0H176.7V220.8H177.7V220.6H178.7V220.1H179.7V219.8H180.7V220.2H181.7V219.5H182.7V219.6H183.7V221.9H184.7V221.8H185.7V214.2H186.7V219.0H187.7V214.9H188.7V214.5H189.7V214.1H190.7V217.3H191.7V217.2H192.7V215.7H193.7V220.8H194.7V213.6H195.7V213.7H196.7V217.3H197.7V210.5H198.7V202.9H199.7V196.5H200.7V199.4H201.7V207.9H202.7V215.0H203.7V217.1H204.7V219.1H205.7V218.9H206.7V219.2H207.7V213.6H208.7V219.0H209.7V220.2H210.7V220.5H211.7V218.6H212.7V217.6H213.7V217.7H214.7V217.9H215.7V220.1H216.7V219.7H217.7V213.9H218.7V219.6H219.7V211.8H220.7V216.8H221.7V214.0H222.7V214.1H223.7V220.4H224.7V220.4H225.7V220.2H226.7V219.6H227.7V212.6H228.7V212.4H229.7V218.5H230.7V214.3H231.7V214.2H232.7V214.1H233.7V214.0H234.7V214.0H235.7V217.7H236.7V217.9H237.7V217.8H238.7V217.8H239.7V218.2H240.7V218.4H241.7V218.9H242.7V214.0H243.7V214.0H244.7V211.6H245.7V219.9H246.7V211.1H247.7V217.1H248.7V217.1H249.7V217.2H250.7V221.4H251.7V221.8H252.7V222.3H253.7V222.4H254.7V216.6H255.7V216.6H256.7V216.3H257.7V218.9H258.7V221.4H259.7V222.7H260.7V223.0H261.7V222.4H262.7V222.0H263.7V215.6H264.7V221.9H265.7V222.0H266.7V214.4H267.7V214.3H268.7V214.7H269.7V215.1H270.7V212.9H271.7V212.6H272.7V216.1H273.7V220.3H274.7V218.0H275.7V218.3H276.7V218.5H277.7V218.9H278.7V220.8H279.7V220.8H280.7V221.2H281.7V221.4H282.7V217.6H283.7V217.5H284.7V217.3H285.7V221.3H286.7V214.1H287.7V222.4H288.7V222.9H289.7V223.2H290.7V215.9H291.7V218.4H292.7V218.5H293.7V218.7H294.7V216.3H295.7V216.4H296.7V216.1H297.7V221.2H298.7V220.6H299.7V215.2H300.7V215.1H301.7V214.8H302.7V214.2H303.7V220.7H304.7V234.3Z" fill="#17a9ee"/>
<g stroke="#111" stroke-width="1.2" fill="none">
<line x1="48.3" y1="244.8" x2="305.4" y2="244.8" stroke-width="1.7"/>
<line x1="48.9" y1="244.8" x2="48.9" y2="249.7" stroke-width="1.45"/>
<line x1="56.0" y1="244.8" x2="56.0" y2="249.7" stroke-width="1.45"/>
<line x1="63.1" y1="244.8" x2="63.1" y2="249.7" stroke-width="1.45"/>
<line x1="70.2" y1="244.8" x2="70.2" y2="249.7" stroke-width="1.45"/>
<line x1="77.3" y1="244.8" x2="77.3" y2="254.6" stroke-width="1.60"/>
<line x1="84.4" y1="244.8" x2="84.4" y2="249.7" stroke-width="1.45"/>
<line x1="91.5" y1="244.8" x2="91.5" y2="249.7" stroke-width="1.45"/>
<line x1="98.6" y1="244.8" x2="98.6" y2="249.7" stroke-width="1.45"/>
<line x1="105.7" y1="244.8" x2="105.7" y2="249.7" stroke-width="1.45"/>
<line x1="112.8" y1="244.8" x2="112.8" y2="251.6" stroke-width="1.50"/>
<line x1="119.9" y1="244.8" x2="119.9" y2="249.7" stroke-width="1.45"/>
<line x1="127.0" y1="244.8" x2="127.0" y2="249.7" stroke-width="1.45"/>
<line x1="134.1" y1="244.8" x2="134.1" y2="249.7" stroke-width="1.45"/>
<line x1="141.2" y1="244.8" x2="141.2" y2="249.7" stroke-width="1.45"/>
<line x1="148.3" y1="244.8" x2="148.3" y2="254.6" stroke-width="1.60"/>
<line x1="155.4" y1="244.8" x2="155.4" y2="249.7" stroke-width="1.45"/>
<line x1="162.5" y1="244.8" x2="162.5" y2="249.7" stroke-width="1.45"/>
<line x1="169.6" y1="244.8" x2="169.6" y2="249.7" stroke-width="1.45"/>
<line x1="176.7" y1="244.8" x2="176.7" y2="249.7" stroke-width="1.45"/>
<line x1="183.8" y1="244.8" x2="183.8" y2="251.6" stroke-width="1.50"/>
<line x1="190.9" y1="244.8" x2="190.9" y2="249.7" stroke-width="1.45"/>
<line x1="198.0" y1="244.8" x2="198.0" y2="249.7" stroke-width="1.45"/>
<line x1="205.1" y1="244.8" x2="205.1" y2="249.7" stroke-width="1.45"/>
<line x1="212.2" y1="244.8" x2="212.2" y2="249.7" stroke-width="1.45"/>
<line x1="219.3" y1="244.8" x2="219.3" y2="254.6" stroke-width="1.60"/>
<line x1="226.4" y1="244.8" x2="226.4" y2="249.7" stroke-width="1.45"/>
<line x1="233.5" y1="244.8" x2="233.5" y2="249.7" stroke-width="1.45"/>
<line x1="240.6" y1="244.8" x2="240.6" y2="249.7" stroke-width="1.45"/>
<line x1="247.7" y1="244.8" x2="247.7" y2="249.7" stroke-width="1.45"/>
<line x1="254.8" y1="244.8" x2="254.8" y2="251.6" stroke-width="1.50"/>
<line x1="261.9" y1="244.8" x2="261.9" y2="249.7" stroke-width="1.45"/>
<line x1="269.0" y1="244.8" x2="269.0" y2="249.7" stroke-width="1.45"/>
<line x1="276.1" y1="244.8" x2="276.1" y2="249.7" stroke-width="1.45"/>
<line x1="283.2" y1="244.8" x2="283.2" y2="249.7" stroke-width="1.45"/>
<line x1="290.3" y1="244.8" x2="290.3" y2="254.6" stroke-width="1.60"/>
<line x1="297.4" y1="244.8" x2="297.4" y2="249.7" stroke-width="1.45"/>
<line x1="304.5" y1="244.8" x2="304.5" y2="249.7" stroke-width="1.45"/>
</g>
<g stroke="#111" stroke-width="1.2" stroke-dasharray="2.2,1.3">
<line x1="77.3" y1="235.2" x2="77.3" y2="244.4"/>
<line x1="112.8" y1="235.2" x2="112.8" y2="244.4"/>
<line x1="148.3" y1="235.2" x2="148.3" y2="244.4"/>
<line x1="183.8" y1="235.2" x2="183.8" y2="244.4"/>
<line x1="219.3" y1="235.2" x2="219.3" y2="244.4"/>
<line x1="254.8" y1="235.2" x2="254.8" y2="244.4"/>
<line x1="290.3" y1="235.2" x2="290.3" y2="244.4"/>
</g>
<text x="77.1" y="275.6" font-size="16.4" text-anchor="middle" fill="#111">20</text>
<text x="148.1" y="275.6" font-size="16.4" text-anchor="middle" fill="#111">30</text>
<text x="219.1" y="275.6" font-size="16.4" text-anchor="middle" fill="#111">40</text>
<text x="290.1" y="275.6" font-size="16.4" text-anchor="middle" fill="#111">50</text>
<text x="227.2" y="294.6" font-size="16.4" fill="#111" textLength="41.4" lengthAdjust="spacingAndGlyphs">2θ (°)</text>
<text x="64.5" y="151.7" font-size="17" font-weight="bold" fill="#111">(a)</text>
<text transform="translate(347.2,111.0) rotate(-90)" font-size="16.4" fill="#111" textLength="38.6" lengthAdjust="spacingAndGlyphs">(101)</text>
<text x="457.2" y="153.4" font-size="17.4" font-weight="bold" fill="#1ed41e" textLength="64" lengthAdjust="spacingAndGlyphs"><tspan>Y</tspan><tspan font-size="10.8" dy="3.8">3</tspan><tspan dy="-3.8">Al</tspan><tspan font-size="10.8" dy="3.8">5</tspan><tspan dy="-3.8">O</tspan><tspan font-size="10.8" dy="3.8">12</tspan></text>
<text x="389.4" y="193.2" font-size="17.4" font-weight="bold" fill="#fb5808" textLength="43.4" lengthAdjust="spacingAndGlyphs"><tspan>YAlO</tspan><tspan font-size="10.8" dy="3.8">3</tspan></text>
<text x="315.8" y="233.2" font-size="17.4" font-weight="bold" fill="#17a9ee" textLength="65.6" lengthAdjust="spacingAndGlyphs"><tspan>MgAl</tspan><tspan font-size="10.8" dy="3.8">2</tspan><tspan dy="-3.8">O</tspan><tspan font-size="10.8" dy="3.8">4</tspan></text>
<rect x="76.5" y="321.6" width="159.0" height="151.4" fill="#fff" stroke="none"/>
<rect x="89.5" y="381.3" width="25.6" height="91.4" fill="url(#bb)"/>
<polygon points="90.1,381.3 114.5,381.3 109.9,386.7 94.7,386.7" fill="#19d0ff"/>
<polygon points="90.1,472.7 114.5,472.7 111.5,469.5 93.1,469.5" fill="#0c6f9d"/>
<text transform="translate(108.1,441.8) rotate(-90)" font-size="17" font-weight="bold" fill="#fff" text-anchor="middle">12.0</text>
<rect x="142.4" y="411.4" width="25.4" height="61.3" fill="url(#bo)"/>
<polygon points="143.0,411.4 167.2,411.4 162.6,416.8 147.6,416.8" fill="#ff7d1e"/>
<polygon points="143.0,472.7 167.2,472.7 164.2,469.5 146.0,469.5" fill="#b04008"/>
<text transform="translate(160.9,441.8) rotate(-90)" font-size="17" font-weight="bold" fill="#fff" text-anchor="middle">8.0</text>
<rect x="195.8" y="351.7" width="25.6" height="121.0" fill="url(#bg)"/>
<polygon points="196.4,351.7 220.8,351.7 216.2,357.1 201.0,357.1" fill="#2cf02c"/>
<polygon points="196.4,472.7 220.8,472.7 217.8,469.5 199.4,469.5" fill="#0a8a0a"/>
<text transform="translate(214.4,441.8) rotate(-90)" font-size="17" font-weight="bold" fill="#fff" text-anchor="middle">15.9</text>
<polyline points="76.5,321.6 235.5,321.6 235.5,473.0" fill="none" stroke="#4a4a4a" stroke-width="1"/>
<g stroke="#222" stroke-width="1.15" fill="none">
<line x1="76.5" y1="321.1" x2="76.5" y2="473.5"/>
<line x1="65.5" y1="473.0" x2="236.0" y2="473.0"/>
<line x1="65.5" y1="473.0" x2="76.5" y2="473.0"/>
<line x1="65.5" y1="435.1" x2="76.5" y2="435.1"/>
<line x1="65.5" y1="397.3" x2="76.5" y2="397.3"/>
<line x1="65.5" y1="359.5" x2="76.5" y2="359.5"/>
<line x1="65.5" y1="321.6" x2="76.5" y2="321.6"/>
<line x1="70.7" y1="454.1" x2="76.5" y2="454.1"/>
<line x1="70.7" y1="416.2" x2="76.5" y2="416.2"/>
<line x1="70.7" y1="378.4" x2="76.5" y2="378.4"/>
<line x1="70.7" y1="340.5" x2="76.5" y2="340.5"/>
<line x1="129.5" y1="473.0" x2="129.5" y2="483.6"/>
<line x1="182.5" y1="473.0" x2="182.5" y2="483.6"/>
</g>
<text x="60.8" y="479.7" font-size="17" text-anchor="end" fill="#111">0.0</text>
<text x="60.8" y="441.8" font-size="17" text-anchor="end" fill="#111">5.0</text>
<text x="60.8" y="404.0" font-size="17" text-anchor="end" fill="#111">10.0</text>
<text x="60.8" y="366.2" font-size="17" text-anchor="end" fill="#111">15.0</text>
<text x="60.8" y="328.3" font-size="17" text-anchor="end" fill="#111">20.0</text>
<text x="86.2" y="344.0" font-size="16.5" font-weight="bold" fill="#111">(b)</text>
<text transform="translate(20.2,445.6) rotate(-90)" font-size="15" font-weight="bold" fill="#111" textLength="91.0" lengthAdjust="spacingAndGlyphs">δ<tspan font-weight="normal">×</tspan>10<tspan font-size="9.6" dy="-7.4">14</tspan><tspan dy="7.4"> (m</tspan><tspan font-size="9.6" dy="-7.4">-2</tspan><tspan dy="7.4">)</tspan></text>
<rect x="342.2" y="322.6" width="158.8" height="151.8" fill="#fff" stroke="none"/>
<rect x="355.0" y="367.0" width="24.8" height="107.1" fill="url(#bb)"/>
<polygon points="355.6,367.0 379.2,367.0 374.6,372.4 360.2,372.4" fill="#19d0ff"/>
<polygon points="355.6,474.1 379.2,474.1 376.2,470.9 358.6,470.9" fill="#0c6f9d"/>
<text transform="translate(373.2,433.4) rotate(-90)" font-size="17" font-weight="bold" fill="#fff" text-anchor="middle">4.2</text>
<rect x="408.3" y="387.5" width="25.3" height="86.6" fill="url(#bo)"/>
<polygon points="408.9,387.5 433.0,387.5 428.4,392.9 413.5,392.9" fill="#ff7d1e"/>
<polygon points="408.9,474.1 433.0,474.1 430.0,470.9 411.9,470.9" fill="#b04008"/>
<text transform="translate(426.8,433.4) rotate(-90)" font-size="17" font-weight="bold" fill="#fff" text-anchor="middle">3.4</text>
<rect x="460.6" y="351.8" width="26.4" height="122.3" fill="url(#bg)"/>
<polygon points="461.2,351.8 486.4,351.8 481.8,357.2 465.8,357.2" fill="#2cf02c"/>
<polygon points="461.2,474.1 486.4,474.1 483.4,470.9 464.2,470.9" fill="#0a8a0a"/>
<text transform="translate(479.6,433.4) rotate(-90)" font-size="17" font-weight="bold" fill="#fff" text-anchor="middle">4.8</text>
<polyline points="342.2,322.6 501.0,322.6 501.0,474.4" fill="none" stroke="#4a4a4a" stroke-width="1"/>
<g stroke="#222" stroke-width="1.15" fill="none">
<line x1="342.2" y1="322.1" x2="342.2" y2="474.9"/>
<line x1="331.2" y1="474.4" x2="501.5" y2="474.4"/>
<line x1="331.2" y1="474.4" x2="342.2" y2="474.4"/>
<line x1="331.2" y1="423.8" x2="342.2" y2="423.8"/>
<line x1="331.2" y1="373.2" x2="342.2" y2="373.2"/>
<line x1="331.2" y1="322.6" x2="342.2" y2="322.6"/>
<line x1="336.4" y1="449.1" x2="342.2" y2="449.1"/>
<line x1="336.4" y1="398.5" x2="342.2" y2="398.5"/>
<line x1="336.4" y1="347.9" x2="342.2" y2="347.9"/>
<line x1="395.1" y1="474.4" x2="395.1" y2="485.0"/>
<line x1="448.1" y1="474.4" x2="448.1" y2="485.0"/>
</g>
<text x="326.6" y="481.1" font-size="17" text-anchor="end" fill="#111">0.0</text>
<text x="326.6" y="430.5" font-size="17" text-anchor="end" fill="#111">2.0</text>
<text x="326.6" y="379.9" font-size="17" text-anchor="end" fill="#111">4.0</text>
<text x="326.6" y="329.3" font-size="17" text-anchor="end" fill="#111">6.0</text>
<text x="352.4" y="345.0" font-size="16.5" font-weight="bold" fill="#111">(c)</text>
<text transform="translate(292.4,422.2) rotate(-90)" font-size="15" font-weight="bold" fill="#111" textLength="45.0" lengthAdjust="spacingAndGlyphs"><tspan font-style="italic">ε</tspan><tspan font-weight="normal">×</tspan>10<tspan font-size="9.6" dy="-7.4">-3</tspan></text>
<text transform="translate(114.9,481.9) scale(1,1.25) rotate(-63)" font-size="15.0" font-weight="bold" fill="#17a9ee" stroke="#17a9ee" stroke-width="0.3" text-anchor="end" textLength="55.8" lengthAdjust="spacingAndGlyphs"><tspan>MgAl</tspan><tspan font-size="10.2" dy="3.0">2</tspan><tspan dy="-3.0">O</tspan><tspan font-size="10.2" dy="3.0">4</tspan></text>
<text transform="translate(168.8,492.5) scale(1,1.25) rotate(-63)" font-size="15.0" font-weight="bold" fill="#fb5808" stroke="#fb5808" stroke-width="0.3" text-anchor="end" textLength="38.5" lengthAdjust="spacingAndGlyphs"><tspan>YAlO</tspan><tspan font-size="10.2" dy="3.0">3</tspan></text>
<text transform="translate(222.4,483.3) scale(1,1.25) rotate(-63)" font-size="15.0" font-weight="bold" fill="#1ed41e" stroke="#1ed41e" stroke-width="0.3" text-anchor="end" textLength="54.5" lengthAdjust="spacingAndGlyphs"><tspan>Y</tspan><tspan font-size="10.2" dy="3.0">3</tspan><tspan dy="-3.0">Al</tspan><tspan font-size="10.2" dy="3.0">5</tspan><tspan dy="-3.0">O</tspan><tspan font-size="10.2" dy="3.0">12</tspan></text>
<text transform="translate(380.9,483.8) scale(1,1.25) rotate(-63)" font-size="15.0" font-weight="bold" fill="#17a9ee" stroke="#17a9ee" stroke-width="0.3" text-anchor="end" textLength="55.2" lengthAdjust="spacingAndGlyphs"><tspan>MgAl</tspan><tspan font-size="10.2" dy="3.0">2</tspan><tspan dy="-3.0">O</tspan><tspan font-size="10.2" dy="3.0">4</tspan></text>
<text transform="translate(435.4,494.1) scale(1,1.25) rotate(-63)" font-size="15.0" font-weight="bold" fill="#fb5808" stroke="#fb5808" stroke-width="0.3" text-anchor="end" textLength="38.7" lengthAdjust="spacingAndGlyphs"><tspan>YAlO</tspan><tspan font-size="10.2" dy="3.0">3</tspan></text>
<text transform="translate(488.8,485.7) scale(1,1.25) rotate(-63)" font-size="15.0" font-weight="bold" fill="#1ed41e" stroke="#1ed41e" stroke-width="0.3" text-anchor="end" textLength="55.0" lengthAdjust="spacingAndGlyphs"><tspan>Y</tspan><tspan font-size="10.2" dy="3.0">3</tspan><tspan dy="-3.0">Al</tspan><tspan font-size="10.2" dy="3.0">5</tspan><tspan dy="-3.0">O</tspan><tspan font-size="10.2" dy="3.0">12</tspan></text>
</svg></body></html>
